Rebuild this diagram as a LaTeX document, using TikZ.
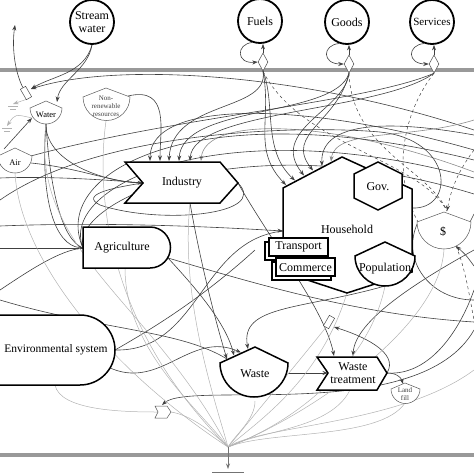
\documentclass[tikz,border=0pt]{standalone}
\usepackage{fontspec}
\setmainfont{Liberation Serif}
\usetikzlibrary{arrows.meta, shapes.geometric, backgrounds}

\begin{document}
\begin{tikzpicture}[x=1pt, y=-1pt, >={Stealth[length=5.5pt,width=4pt]},
  unitbox/.style={draw=black, line width=1.5pt, fill=white, line join=miter},
  smallunit/.style={draw=black!65, line width=0.5pt, fill=white},
  source/.style={circle, draw, line width=1.8pt, fill=white, minimum size=44pt, inner sep=0pt, align=center, font=\fontsize{12}{13.5}\selectfont},
  deal/.style={diamond, draw=black!70, line width=0.5pt, fill=white, minimum width=10pt, minimum height=18pt, inner sep=0pt},
  switchbox/.style={draw=black!70, line width=0.5pt, fill=white, minimum width=6pt, minimum height=12pt, inner sep=0pt},
  lbl/.style={align=center, inner sep=0pt, font=\fontsize{12}{13.5}\selectfont},
  lblsmall/.style={align=center, inner sep=0pt, font=\fontsize{8.5}{9.5}\selectfont},
  lbltiny/.style={align=center, inner sep=0pt, text=black!75, font=\fontsize{7}{8}\selectfont},
  flow/.style={draw=black!75, line width=0.6pt},
  money/.style={draw=black!75, line width=0.5pt, dashed},
  heat/.style={draw=black!30, line width=0.5pt},
  border/.style={draw=black!40, line width=4pt}]

\useasboundingbox (0,0) rectangle (474,474);

%Sources
\node[source] (stream) at (92,22) {Stream\\water};
\node[source] (fuels) at (260,21) {Fuels};
\node[source] (goods) at (347,22) {Goods};
\node[source] (serv) at (432,22) {\fontsize{11}{12}\selectfont Services};
\node[deal] (fdeal) at (263,62) {};
\node[deal] (gdeal) at (349,64) {};
\node[deal] (sdeal) at (434,64) {};

%Water, air, resources
\draw[smallunit] (30,108) -- (46,101) -- (62,108) arc (0:180:16) -- cycle;
\node[lblsmall] (water) at (46,115) {Water};
\draw[smallunit] (83,97) -- (106,88) -- (130,97) arc (0:180:23.5) -- cycle;
\node[lbltiny] (nonren) at (106,106) {Non-\\renewable\\resources};
\draw[smallunit] (-2,156) -- (15,148) -- (32,156) arc (0:180:17) -- cycle;
\node[lblsmall] (air) at (15,163) {Air};
\node[switchbox, rotate=30] (sw) at (26,93) {};

%Industry
\draw[unitbox] (125,162) -- (220,162) -- (238,183) -- (220,203) -- (125,203) -- (143,183) -- cycle;
\node[lbl] (ind) at (182,183) {Industry};

%Agriculture
\draw[unitbox] (83,227) -- (150,227) arc (-90:90:20.5) -- (83,268) -- cycle;
\node[lbl] (agr) at (122,248) {Agriculture};

%Household
\draw[unitbox] (283,188) -- (342,157) -- (412,189) -- (412,272) -- (347,293) -- (283,272) -- cycle;
\node[lbl] (hh) at (347,229) {Household};
\draw[unitbox] (354,174) -- (378,162) -- (402,174) -- (402,198) -- (378,210) -- (354,198) -- cycle;
\node[lbl] (gov) at (378,187) {Gov.};
\draw[unitbox] (355,256) -- (385,242) -- (415,256) arc (0:180:30) -- cycle;
\node[lbl] (pop) at (385,269) {Population};
\draw[unitbox, line width=1.2pt] (265,242) rectangle (324,260);
\draw[unitbox, line width=1.2pt] (269,238) rectangle (328,256);
\node[lbl] (transp) at (298.5,247) {Transport};
\draw[unitbox, line width=1.2pt] (272,262) rectangle (331,280);
\draw[unitbox, line width=1.2pt] (276,258) rectangle (335,276);
\node[lbl] (comm) at (305.5,267.5) {Commerce};

%Money
\draw[smallunit] (417,222) -- (444,212) -- (471,222) arc (0:180:27) -- cycle;
\node[lbl] (cash) at (443,232) {\$};

%Environment
\draw[unitbox] (-10,315) -- (80,315) arc (-90:90:35) -- (-10,385) -- cycle;
\node[lbl, font=\fontsize{11.5}{13}\selectfont] (env) at (56,350) {Environmental system};

%Waste
\draw[unitbox] (220,363) -- (255,347) -- (288,363) arc (0:180:34) -- cycle;
\node[lbl] (waste) at (255,374) {Waste};
\draw[unitbox] (317,357) -- (377,357) -- (387,373) -- (377,390) -- (317,390) -- (328,373) -- cycle;
\node[lbl] (wtreat) at (353,373) {Waste\\treatment};
\draw[smallunit] (391,389) -- (405,383) -- (420,389) arc (0:180:14.5) -- cycle;
\node[lbltiny] (landfill) at (405,394) {Land\\fill};
\node[switchbox, rotate=-30] (pump) at (329,322) {};
\draw[smallunit] (155,406) -- (167,406) -- (171,412) -- (167,418) -- (155,418) -- (158,412) -- cycle;

%Ports
\coordinate (up) at (15,25);
\coordinate (sw-in) at (31,89);
\coordinate (wa-in) at (57,102);
\coordinate (wa-l) at (32,118);
\coordinate (wa-b) at (46,124);
\coordinate (nr-r) at (128,96);
\coordinate (nr-b) at (106,121);
\coordinate (air-t) at (4,149);
\coordinate (air-r) at (31,163);
\coordinate (air-b) at (15,173);
\coordinate (gnd1) at (13,104);
\coordinate (gnd2) at (7,126);
\foreach \x [count=\i] in {150,160,169,179,190,201} \coordinate (ind\i) at (\x,161);
\coordinate (ind-l) at (143,183);
\coordinate (ind-r) at (238,183);
\coordinate (ind-b) at (190,203);
\coordinate (agr-l) at (83,248);
\coordinate (agr-r) at (168,258);
\coordinate (agr-b) at (125,268);
\foreach \x/\y [count=\i] in {286/185, 295/180.5, 304/175.5, 313/170.5, 322/166, 331/161.5} \coordinate (hh\i) at (\x,\y);
\coordinate (hh-l) at (283,231);
\coordinate (hh-r) at (412,208);
\coordinate (hh-b) at (347,293);
\coordinate (pop-b) at (385,286);
\coordinate (cash-t) at (447,211);
\coordinate (cash-l) at (418,222);
\coordinate (cash-r1) at (463,236);
\coordinate (cash-r2) at (456,246);
\coordinate (cash-b) at (444,249);
\coordinate (env-r) at (115,350);
\coordinate (env-br) at (108,367);
\coordinate (env-b) at (55,385);
\foreach \x/\y [count=\i] in {227/359, 234/355.5, 241/352.5, 248/349} \coordinate (was\i) at (\x,\y);
\coordinate (was-r) at (288,373);
\coordinate (was-b) at (255,401);
\coordinate (wt-l) at (328,373);
\coordinate (wt-t1) at (334,356);
\coordinate (wt-t2) at (353,356);
\coordinate (wt-r) at (387,373);
\coordinate (wt-b) at (350,390);
\coordinate (lf-t) at (403,384);
\coordinate (lf-b) at (405,403);
\coordinate (pump-in) at (334,327);
\coordinate (chev-in) at (162,405);
\coordinate (chev-l) at (157,412);
\coordinate (chev-r) at (171,412);
\coordinate (sink) at (228,447);
\coordinate (gnd) at (228,469);

\begin{scope}[on background layer]
%Borders
\draw[border] (0,70) -- (474,70);
\draw[border] (0,455) -- (474,455);

%Purchases
\draw[flow,->] (fuels.250) .. controls (236,44) and (236,64) .. (fdeal.west);
\draw[flow,->] (fdeal.north) -- (fdeal.north |- fuels.south);
\draw[flow,->] (goods.250) .. controls (322,45) and (322,64) .. (gdeal.west);
\draw[flow,->] (gdeal.north) -- (gdeal.north |- goods.south);
\draw[flow,->] (serv.250) .. controls (407,45) and (407,64) .. (sdeal.west);
\draw[flow,->] (sdeal.north) -- (sdeal.north |- serv.south);

%Water side
\draw[flow,->] (stream.south) .. controls (88,70) and (60,80) .. (wa-in);
\draw[flow,->] (stream.south) .. controls (84,74) and (52,76) .. (sw-in);
\draw[flow,->] (sw.north) .. controls (14,70) and (12,45) .. (up);
\draw[flow,->] (air-t) -- (wa-l);
\draw[flow,->] (474,130) .. controls (300,72) and (115,62) .. (sw-in);
\draw[heat,->] (sw.south) -- (gnd1);
\draw[heat,->] (wa-l) .. controls (15,114) .. (gnd2);
\draw[heat, line width=0.8pt] (8,106) -- (18,106) (10,109) -- (16,109);
\draw[heat, line width=0.8pt] (2,128) -- (12,128) (4,131) -- (10,131);

%Into industry
\draw[flow,->] (474,150) .. controls (300,100) and (150,100) .. (ind1);
\draw[flow,->] (nr-r) .. controls (170,86) and (160,130) .. (ind2);
\draw[flow,->] (fdeal.south) .. controls (270,112) and (172,100) .. (ind3);
\draw[flow,->] (gdeal.south) .. controls (335,118) and (182,104) .. (ind4);
\draw[flow,->] (sdeal.south) .. controls (380,112) and (193,110) .. (ind5);
\draw[flow,black!45,->] (474,172) .. controls (330,118) and (205,116) .. (ind6);
\draw[flow,->] (air-r) .. controls (80,168) and (110,182) .. (ind-l);
\draw[flow] (0,178) .. controls (50,176) and (110,180) .. (ind-l);
\draw[flow] (wa-b) .. controls (45,160) and (100,182) .. (ind-l);
\draw[flow] (ind-r) .. controls (270,215) and (160,225) .. (100,205) .. controls (80,195) and (110,188) .. (ind-l);

%Into household
\draw[flow,->] (fdeal.south) .. controls (272,120) and (252,150) .. (hh1);
\draw[flow,->] (fdeal.south) .. controls (276,104) and (262,150) .. (hh2);
\draw[flow,->] (gdeal.south) .. controls (345,110) and (268,130) .. (hh3);
\draw[flow,->] (gdeal.south) .. controls (338,122) and (284,134) .. (hh4);
\draw[flow,->] (474,135) .. controls (380,118) and (320,124) .. (hh5);
\draw[flow,black!45,->] (474,120) .. controls (410,140) and (335,128) .. (hh6);
\draw[flow,->] (0,226) .. controls (100,222) and (200,226) .. (hh-l);
\draw[flow] (env-r) .. controls (200,352) and (200,240) .. (hh-l);
\draw[flow] (hh-r) .. controls (455,210) and (455,140) .. (380,132) .. controls (300,125) and (100,130) .. (0,200);
\draw[flow] (sdeal.south) .. controls (360,105) and (150,118) .. (0,165);

%Into agriculture
\draw[flow,->] (wa-b) .. controls (40,200) and (55,245) .. (agr-l);
\draw[flow] (wa-b) .. controls (50,190) and (62,240) .. (agr-l);
\draw[flow] (0,248) -- (agr-l);
\draw[flow] (474,160) .. controls (200,92) and (48,170) .. (agr-l);
\draw[flow] (474,178) .. controls (220,108) and (58,186) .. (agr-l);
\draw[flow] (474,194) .. controls (240,122) and (70,202) .. (agr-l);
\draw[flow] (0,290) .. controls (30,270) and (60,250) .. (agr-l);

%Money
\draw[money] (fdeal.south) .. controls (300,145) and (420,160) .. (cash-t);
\draw[money] (gdeal.south) .. controls (352,150) and (430,170) .. (cash-t);
\draw[money] (sdeal.south) .. controls (405,110) and (390,170) .. (cash-l);
\draw[money,->] (474,150) .. controls (455,175) and (450,195) .. (cash-t);
\draw[money] (cash-r2) .. controls (466,270) and (470,300) .. (474,320);
\draw[flow,->] (474,214) .. controls (468,226) .. (cash-r1);
\draw[flow,->] (474,266) .. controls (466,255) .. (cash-r2);
\draw[flow] (cash-l) .. controls (400,260) and (430,300) .. (474,300);

%Into waste
\draw[flow,->] (ind-b) .. controls (200,260) and (215,320) .. (was1);
\draw[flow,->] (agr-r) .. controls (190,282) and (225,320) .. (was2);
\draw[flow,->] (env-br) .. controls (160,392) and (190,330) .. (was3);
\draw[flow,->] (pop-b) .. controls (300,310) and (240,305) .. (was4);
\draw[flow] (env-r) .. controls (150,330) and (200,300) .. (255,250);
\draw[flow] (agr-r) .. controls (260,285) and (360,315) .. (474,322);
\draw[flow] (0,300) .. controls (100,330) and (180,330) .. (was1);

%Waste treatment
\draw[flow,->] (was-r) -- (wt-l);
\draw[flow,->] (wt-r) .. controls (396,373) and (401,377) .. (lf-t);
\draw[flow] (wt-r) .. controls (430,376) and (460,330) .. (474,290);
\draw[flow,->] (ind-r) .. controls (270,240) and (325,310) .. (wt-t1);
\draw[flow,->] (474,250) .. controls (420,280) and (355,320) .. (wt-t2);
\draw[flow,->] (wt-r) .. controls (400,352) and (360,335) .. (pump-in);
\draw[flow,->] (474,330) .. controls (420,425) and (190,380) .. (chev-in);

%Heat
\draw[heat] (was-b) .. controls (255,420) and (235,435) .. (sink);
\draw[heat] (agr-b) .. controls (125,350) and (200,410) .. (sink);
\draw[heat] (ind-b) .. controls (180,300) and (215,400) .. (sink);
\draw[heat] (nr-b) .. controls (95,200) and (110,330) .. (sink);
\draw[heat] (wa-b) .. controls (30,250) and (150,300) .. (sink);
\draw[heat] (air-b) .. controls (20,260) and (110,370) .. (sink);
\draw[heat] (hh-b) .. controls (320,380) and (260,420) .. (sink);
\draw[heat] (wt-b) .. controls (330,430) and (260,430) .. (sink);
\draw[heat] (lf-b) .. controls (380,440) and (270,430) .. (sink);
\draw[heat] (pop-b) .. controls (370,360) and (300,420) .. (sink);
\draw[heat] (cash-b) .. controls (440,330) and (300,420) .. (sink);
\draw[heat] (474,370) .. controls (400,425) and (260,425) .. (sink);
\draw[heat] (env-b) .. controls (60,410) and (120,412) .. (chev-l);
\draw[heat] (chev-r) .. controls (190,415) and (210,430) .. (sink);
\draw[heat] (pump.south) .. controls (300,360) and (250,420) .. (sink);
\draw[black!55, line width=0.6pt, ->] (sink) -- (gnd);
\draw[black!55, line width=1pt] (212,472) -- (244,472);
\end{scope}
\end{tikzpicture}
\end{document}
